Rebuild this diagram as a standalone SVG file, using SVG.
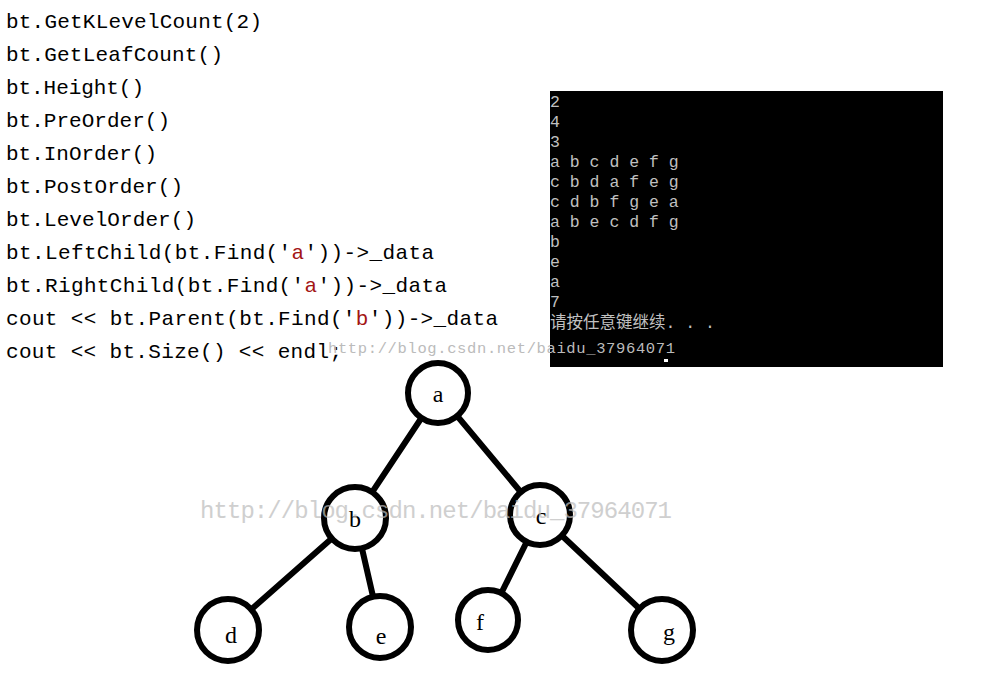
<svg xmlns="http://www.w3.org/2000/svg" width="983" height="673" viewBox="0 0 983 673">
<style>
.code{font-family:"Liberation Mono",monospace;font-size:21px;fill:#000}
.con{font-family:"Liberation Mono","Noto Sans CJK SC",monospace;font-size:16.5px;fill:#c0c0c0}
.n circle{fill:#fff;stroke:#000;stroke-width:6}
.n text{font-family:"Liberation Serif",serif;font-size:24px;fill:#000;text-anchor:middle}
.wm{font-family:"Liberation Mono",monospace;fill:#bbb}
.r{fill:#a31515}
</style>
<rect width="983" height="673" fill="#fff"/>
<g id="code" class="code">
<text x="6" y="28" textLength="256">bt.GetKLevelCount(2)</text>
<text x="6" y="61" textLength="217">bt.GetLeafCount()</text>
<text x="6" y="94" textLength="138">bt.Height()</text>
<text x="6" y="127" textLength="164">bt.PreOrder()</text>
<text x="6" y="160" textLength="151">bt.InOrder()</text>
<text x="6" y="193" textLength="177">bt.PostOrder()</text>
<text x="6" y="226" textLength="190">bt.LevelOrder()</text>
<text x="6" y="259" textLength="428">bt.LeftChild(bt.Find('<tspan class="r">a</tspan>'))-&gt;_data</text>
<text x="6" y="292" textLength="441">bt.RightChild(bt.Find('<tspan class="r">a</tspan>'))-&gt;_data</text>
<text x="6" y="325" textLength="492">cout &lt;&lt; bt.Parent(bt.Find('<tspan class="r">b</tspan>'))-&gt;_data</text>
<text x="6" y="358" textLength="336">cout &lt;&lt; bt.Size() &lt;&lt; endl;</text>
</g>
<g id="console">
<rect x="550" y="91" width="393" height="276" fill="#000"/>
<g class="con">
<text x="550" y="107">2</text>
<text x="550" y="127">4</text>
<text x="550" y="147">3</text>
<text x="550" y="167">a b c d e f g</text>
<text x="550" y="187">c b d a f e g</text>
<text x="550" y="207">c d b f g e a</text>
<text x="550" y="227">a b e c d f g</text>
<text x="550" y="247">b</text>
<text x="550" y="267">e</text>
<text x="550" y="287">a</text>
<text x="550" y="307">7</text>
<text x="550" y="328">请按任意键继续. . .</text>
</g>
<rect x="664" y="359" width="4" height="3" fill="#fff"/>
</g>
<text class="wm" x="328" y="353" font-size="15.5" textLength="347">http://blog.csdn.net/baidu_37964071</text>
<g id="edges" stroke="#000" stroke-width="6" stroke-linecap="round">
<line x1="438" y1="393" x2="355" y2="518"/>
<line x1="438" y1="393" x2="540" y2="515"/>
<line x1="355" y1="518" x2="228" y2="630"/>
<line x1="355" y1="518" x2="380" y2="627"/>
<line x1="540" y1="515" x2="488" y2="620"/>
<line x1="540" y1="515" x2="662" y2="630"/>
</g>
<g id="node-a" class="n"><circle cx="438" cy="393" r="30"/><text x="438" y="402">a</text></g>
<g id="node-b" class="n"><circle cx="355" cy="518" r="31"/><text x="355" y="527">b</text></g>
<g id="node-c" class="n"><circle cx="540" cy="515" r="30"/><text x="541" y="524">c</text></g>
<g id="node-d" class="n"><circle cx="228" cy="630" r="31"/><text x="231" y="643">d</text></g>
<g id="node-e" class="n"><circle cx="380" cy="627" r="31"/><text x="381" y="644">e</text></g>
<g id="node-f" class="n"><circle cx="488" cy="620" r="30"/><text x="480" y="630">f</text></g>
<g id="node-g" class="n"><circle cx="662" cy="630" r="31"/><text x="669" y="640">g</text></g>
<text class="wm" x="200" y="518" font-size="24" textLength="472" opacity="0.7">http://blog.csdn.net/baidu_37964071</text>
</svg>
